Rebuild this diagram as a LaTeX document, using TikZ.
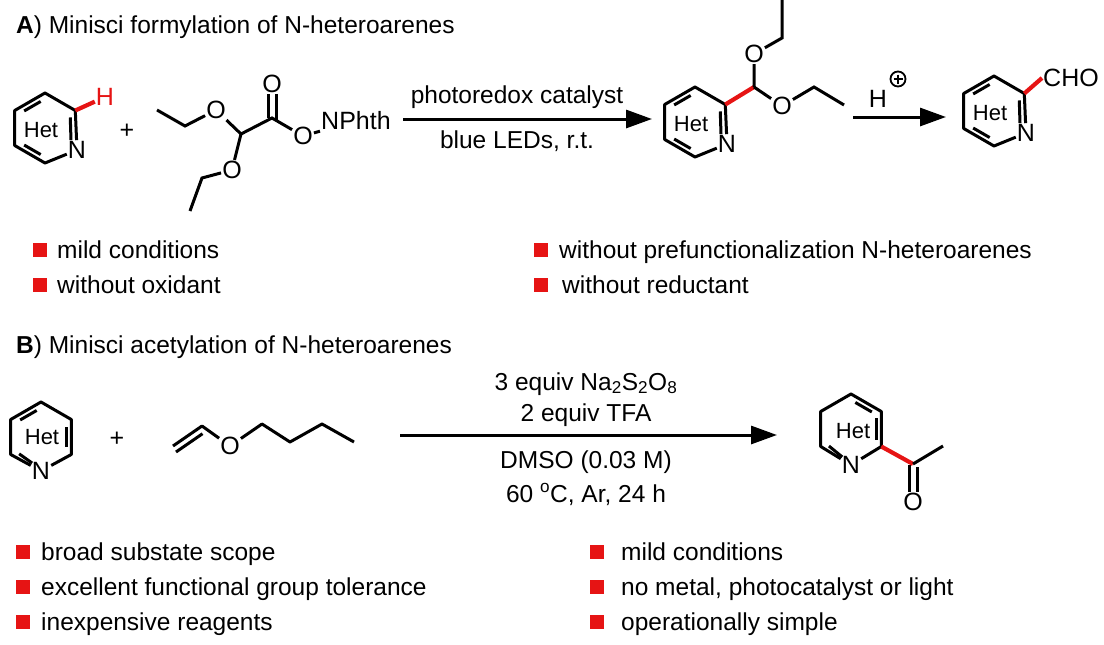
\documentclass[tikz,border=0pt]{standalone}
\usepackage{fontspec}
\setmainfont{Liberation Sans}
\usetikzlibrary{calc,arrows.meta}
\definecolor{hred}{RGB}{230,20,20}
\newcommand{\innerb}[3]{\draw[bond,shorten <=5pt,shorten >=5pt] ($(#1)!0.17!(#3)$) -- ($(#2)!0.17!(#3)$);}
\newcommand{\mkring}[3]{%
  \coordinate (#1c) at (#2,#3);
  \coordinate (#11) at (#2,#3-35); \coordinate (#12) at (#2+30.3,#3-17.5);
  \coordinate (#13) at (#2+30.3,#3+17.5); \coordinate (#14) at (#2,#3+35);
  \coordinate (#15) at (#2-30.3,#3+17.5); \coordinate (#16) at (#2-30.3,#3-17.5);}
\begin{document}
\begin{tikzpicture}[x=1pt,y=-1pt,
  bond/.style={line width=3pt,line cap=butt},
  rbond/.style={line width=4.2pt,hred},
  atom/.style={inner sep=1pt,font=\fontsize{25}{28}\selectfont},
  txt/.style={inner sep=0pt,anchor=base west,font=\fontsize{24.5}{28}\selectfont},
  lab/.style={inner sep=0pt,anchor=base,font=\fontsize{24.5}{28}\selectfont},
  het/.style={inner sep=0pt,font=\fontsize{22}{25}\selectfont},
  sq/.style={fill=hred,minimum size=14pt,inner sep=0pt},
  arr/.style={line width=3pt,-{Triangle[length=26pt,width=18pt]}}]
\useasboundingbox (0,0) rectangle (1104,645);
% ---- A header
\node[txt] (hA) at (16,33) {\textbf{A}) Minisci formylation of N-heteroarenes};
% ring 1
\mkring{a}{45}{128}
\node[atom] (aN) at (77,150) {N};
\draw[bond,line join=round] (a2) -- (a1) -- (a6) -- (a5) -- (a4) -- (aN) -- (a2);
\innerb{a6}{a1}{ac} \innerb{a5}{a4}{ac}
\draw[bond,shorten <=4pt] ($(a2)!0.17!(ac)$) -- ($(aN.north)+(-6,0)$);
\node[het] (h1) at (41,130) {Het};
\node[atom,text=hred] (H1) at (105,97) {H};
\draw[rbond] (a2) -- (H1);
\node[atom] (p1) at (127,131) {+};
% reagent
\coordinate (r1) at (157,110); \coordinate (r2) at (185,126);
\node[atom] (rO1) at (216,110) {O};
\coordinate (r3) at (241,134);
\coordinate (r4) at (272,118);
\node[atom] (rO2) at (272,84) {O};
\node[atom] (rO3) at (303,136) {O};
\node[atom,anchor=west] (np) at (320,121) {NPhth};
\node[atom] (rO4) at (232,170) {O};
\coordinate (r5) at (202,178); \coordinate (r6) at (190,211);
\draw[bond] (r1) -- (r2) -- (rO1) -- (r3) -- (r4) -- (rO3) -- (np);
\draw[bond] (r3) -- (rO4) -- (r5) -- (r6);
\draw[bond] ($(r4)+(-4,0)$) -- ($(rO2.south)+(-4,0)$);
\draw[bond] ($(r4)+(4,2)$) -- ($(rO2.south)+(4,0)$);
% arrow 1
\coordinate (s1) at (403,119); \coordinate (e1) at (652,119);
\draw[arr] (s1) -- (e1);
\node[lab] (l1) at (517,103) {photoredox catalyst};
\node[lab] (l2) at (517,148) {blue LEDs, r.t.};
% product 1
\mkring{b}{695}{122}
\node[atom] (bN) at (727,144) {N};
\draw[bond,line join=round] (b2) -- (b1) -- (b6) -- (b5) -- (b4) -- (bN) -- (b2);
\innerb{b6}{b1}{bc} \innerb{b5}{b4}{bc}
\draw[bond,shorten <=4pt] ($(b2)!0.17!(bc)$) -- ($(bN.north)+(-6,0)$);
\node[het] (h2) at (691,124) {Het};
\coordinate (q1) at (754,87);
\draw[rbond] (b2) -- (q1);
\node[atom] (qO1) at (754,54) {O};
\coordinate (q2) at (782,38); \coordinate (q3) at (782,0);
\node[atom] (qO2) at (782,106) {O};
\coordinate (q4) at (814,87); \coordinate (q5) at (844,105);
\draw[bond] (q1) -- (qO1) -- (q2) -- (q3);
\draw[bond] (q1) -- (qO2) -- (q4) -- (q5);
% arrow 2
\coordinate (s2) at (853,117); \coordinate (e2) at (946,117);
\draw[arr] (s2) -- (e2);
\node[atom] (Hp) at (878,99) {H};
\node[circle,draw,line width=1.8pt,inner sep=0pt,minimum size=15pt] (plus) at (898,79) {};
\draw[line width=2pt] ($(plus)+(-4.5,0)$) -- ($(plus)+(4.5,0)$) ($(plus)+(0,-4.5)$) -- ($(plus)+(0,4.5)$);
% product 2
\mkring{d}{994}{111}
\node[atom] (dN) at (1026,133) {N};
\draw[bond,line join=round] (d2) -- (d1) -- (d6) -- (d5) -- (d4) -- (dN) -- (d2);
\innerb{d6}{d1}{dc} \innerb{d5}{d4}{dc}
\draw[bond,shorten <=4pt] ($(d2)!0.17!(dc)$) -- ($(dN.north)+(-6,0)$);
\node[het] (h3) at (990,113) {Het};
\node[atom,anchor=west] (cho) at (1042,78) {CHO};
\draw[rbond] (d2) -- (cho.west);
% bullets A
\node[sq] (ba1) at (40,250) {}; \node[txt] (ta1) at (57,258) {mild conditions};
\node[sq] (ba2) at (40,285) {}; \node[txt] (ta2) at (57,293) {without oxidant};
\node[sq] (ba3) at (541,250) {}; \node[txt] (ta3) at (559,258) {without prefunctionalization N-heteroarenes};
\node[sq] (ba4) at (541,285) {}; \node[txt] (ta4) at (562,293) {without reductant};
% ---- B header
\node[txt] (hB) at (16,353) {\textbf{B}) Minisci acetylation of N-heteroarenes};
% ring B
\mkring{e}{41}{437}
\node[atom] (eN) at (41,471) {N};
\draw[bond,line join=round] (eN) -- (e3) -- (e2) -- (e1) -- (e6) -- (e5) -- (eN);
\innerb{e6}{e1}{ec} \innerb{e2}{e3}{ec}
\draw[bond,shorten <=4pt,shorten >=2pt] ($(e5)!0.17!(ec)$) -- ($(eN.north west)+(3,3)$);
\node[het] (h4) at (42,437) {Het};
\node[atom] (p2) at (117,439) {+};
% vinyl ether
\coordinate (v1) at (173,446); \coordinate (v2) at (202,426);
\node[atom] (vO) at (230,446) {O};
\coordinate (v3) at (262,424); \coordinate (v4) at (290,442); \coordinate (v5) at (322,424); \coordinate (v6) at (354,442);
\draw[bond,line join=round] (v1) -- (v2) -- (vO) -- (v3) -- (v4) -- (v5) -- (v6);
\draw[bond,shorten >=3pt] ($(v1)+(3,6)$) -- ($(v2)+(3,6)$);
% arrow B
\coordinate (s3) at (400,435); \coordinate (e3a) at (777,435);
\draw[arr] (s3) -- (e3a);
\node[lab] (m1) at (586,390) {3 equiv Na\textsubscript{2}S\textsubscript{2}O\textsubscript{8}};
\node[lab] (m2) at (586,421) {2 equiv TFA};
\node[lab] (m3) at (586,468) {DMSO (0.03 M)};
\node[lab] (m4) at (586,502) {60 \textsuperscript{o}C, Ar, 24 h};
% product B
\mkring{f}{851}{429}
\node[atom] (fN) at (851,465) {N};
\draw[bond,line join=round] (fN) -- (f3) -- (f2) -- (f1) -- (f6) -- (f5) -- (fN);
\innerb{f1}{f2}{fc}
\draw[bond,shorten <=4pt,shorten >=2pt] ($(f5)!0.17!(fc)$) -- ($(fN.north west)+(3,3)$);
\draw[bond,shorten <=4pt,shorten >=4pt] ($(f2)!0.17!(fc)$) -- ($(f3)!0.17!(fc)$);
\node[het] (h5) at (853,431) {Het};
\coordinate (g1) at (913,464);
\draw[rbond] (f3) -- (g1);
\coordinate (g2) at (943,446);
\node[atom] (gO) at (913,502) {O};
\draw[bond] (g1) -- (g2);
\draw[bond] ($(g1)+(-4,1)$) -- ($(gO.north)+(-4,0)$);
\draw[bond] ($(g1)+(4,3)$) -- ($(gO.north)+(4,0)$);
% bullets B
\node[sq] (bb1) at (23,552) {}; \node[txt] (tb1) at (41,560) {broad substate scope};
\node[sq] (bb2) at (23,587) {}; \node[txt] (tb2) at (41,595) {excellent functional group tolerance};
\node[sq] (bb3) at (23,622) {}; \node[txt] (tb3) at (41,630) {inexpensive reagents};
\node[sq] (bb4) at (597,552) {}; \node[txt] (tb4) at (621,560) {mild conditions};
\node[sq] (bb5) at (597,587) {}; \node[txt] (tb5) at (621,595) {no metal, photocatalyst or light};
\node[sq] (bb6) at (597,622) {}; \node[txt] (tb6) at (621,630) {operationally simple};
\end{tikzpicture}
\end{document}
